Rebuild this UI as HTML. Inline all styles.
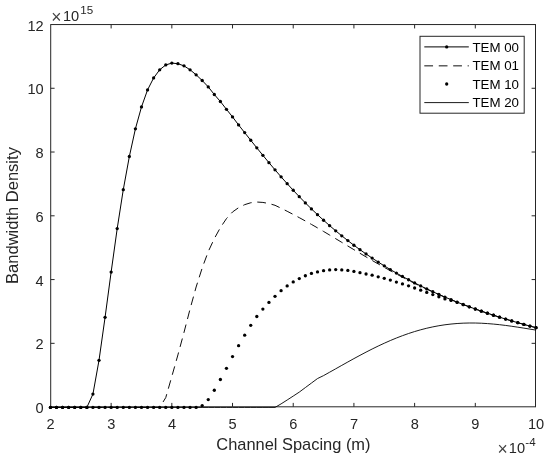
<!DOCTYPE html>
<html><head><meta charset="utf-8"><title>Bandwidth Density vs Channel Spacing</title>
<style>html,body{margin:0;padding:0;background:#fff}body{width:550px;height:460px;overflow:hidden}</style></head>
<body>
<svg width="550" height="460" viewBox="0 0 550 460" style="display:block;font-family:'Liberation Sans',sans-serif">
<rect width="550" height="460" fill="#fff"/>
<g stroke="#262626" stroke-width="1" fill="none">
<rect x="50.7" y="24.55" width="484.8" height="382.25"/>
<path d="M111.14 406.8v-3.9M111.14 24.55v3.9"/>
<path d="M171.84 406.8v-3.9M171.84 24.55v3.9"/>
<path d="M232.53 406.8v-3.9M232.53 24.55v3.9"/>
<path d="M293.23 406.8v-3.9M293.23 24.55v3.9"/>
<path d="M353.92 406.8v-3.9M353.92 24.55v3.9"/>
<path d="M414.61 406.8v-3.9M414.61 24.55v3.9"/>
<path d="M475.31 406.8v-3.9M475.31 24.55v3.9"/>
<path d="M50.7 343.33h3.9M535.5 343.33h-3.9"/>
<path d="M50.7 279.57h3.9M535.5 279.57h-3.9"/>
<path d="M50.7 215.80h3.9M535.5 215.80h-3.9"/>
<path d="M50.7 152.03h3.9M535.5 152.03h-3.9"/>
<path d="M50.7 88.27h3.9M535.5 88.27h-3.9"/>
</g>
<g fill="#262626" font-size="15.1px">
<text x="46.49" y="428.7" textLength="8.12" lengthAdjust="spacingAndGlyphs">2</text>
<text x="107.18" y="428.7" textLength="8.12" lengthAdjust="spacingAndGlyphs">3</text>
<text x="167.88" y="428.7" textLength="8.12" lengthAdjust="spacingAndGlyphs">4</text>
<text x="228.57" y="428.7" textLength="8.12" lengthAdjust="spacingAndGlyphs">5</text>
<text x="289.26" y="428.7" textLength="8.12" lengthAdjust="spacingAndGlyphs">6</text>
<text x="349.96" y="428.7" textLength="8.12" lengthAdjust="spacingAndGlyphs">7</text>
<text x="410.65" y="428.7" textLength="8.12" lengthAdjust="spacingAndGlyphs">8</text>
<text x="471.35" y="428.7" textLength="8.12" lengthAdjust="spacingAndGlyphs">9</text>
<text x="527.98" y="428.7" textLength="16.24" lengthAdjust="spacingAndGlyphs">10</text>
<text x="35.58" y="413.20" textLength="8.12" lengthAdjust="spacingAndGlyphs">0</text>
<text x="35.58" y="349.43" textLength="8.12" lengthAdjust="spacingAndGlyphs">2</text>
<text x="35.58" y="285.67" textLength="8.12" lengthAdjust="spacingAndGlyphs">4</text>
<text x="35.58" y="221.90" textLength="8.12" lengthAdjust="spacingAndGlyphs">6</text>
<text x="35.58" y="158.13" textLength="8.12" lengthAdjust="spacingAndGlyphs">8</text>
<text x="27.46" y="94.37" textLength="16.24" lengthAdjust="spacingAndGlyphs">10</text>
<text x="27.46" y="30.60" textLength="16.24" lengthAdjust="spacingAndGlyphs">12</text>
<text x="51.2" y="22.8" font-size="17.5px" fill="#444">×</text><text x="63.0" y="20.5" textLength="16.24" lengthAdjust="spacingAndGlyphs">10</text><text x="80.2" y="13.5" font-size="11.6px">15</text>
<text x="497.5" y="455.1" font-size="17.5px" fill="#444">×</text><text x="508.8" y="452.9" textLength="16.24" lengthAdjust="spacingAndGlyphs">10</text><text x="525.3" y="446.4" font-size="11.6px">-4</text>
</g>
<g fill="#262626" font-size="16.4px">
<text x="216.3" y="449.8" textLength="154.2" lengthAdjust="spacingAndGlyphs">Channel Spacing (m)</text>
<text transform="translate(18.1,283.9) rotate(-90)" textLength="136.8" lengthAdjust="spacingAndGlyphs">Bandwidth Density</text>
</g>
<g transform="translate(0,0.3)">
<g fill="none" stroke="#000" stroke-width="1.0" stroke-linejoin="round">
<polyline points="50.45,407.10 56.52,407.10 62.59,407.10 68.66,407.10 74.73,407.10 80.80,407.10 86.87,407.10 92.94,393.77 99.00,360.02 105.07,317.05 111.14,271.75 117.21,228.23 123.28,189.40 129.35,156.19 135.42,128.50 141.49,106.63 147.56,89.60 153.63,77.66 159.70,69.48 165.77,64.61 171.84,62.80 177.91,63.40 183.98,65.57 190.05,69.48 196.12,74.48 202.18,80.21 208.25,86.58 214.32,94.22 220.39,101.22 226.46,109.02 232.53,116.59 238.60,124.67 244.67,132.32 250.74,139.96 256.81,147.54 262.88,155.01 268.95,162.35 275.02,169.53 281.09,176.54 287.16,183.35 293.23,189.97 299.29,196.39 305.36,202.59 311.43,208.59 317.50,214.38 323.57,219.96 329.64,225.34 335.71,230.53 341.78,235.52 347.85,240.32 353.92,244.94 359.99,249.39 366.06,253.67 372.13,257.78 378.20,261.74 384.27,265.56 390.33,269.23 396.40,272.76 402.47,276.17 408.54,279.44 414.61,282.60 420.68,285.65 426.75,288.59 432.82,291.42 438.89,294.15 444.96,296.79 451.03,299.34 457.10,301.80 463.17,304.18 469.24,306.48 475.31,308.70 481.38,310.85 487.44,312.93 493.51,314.94 499.58,316.89 505.65,318.78 511.72,320.61 517.79,322.39 523.86,324.11 529.93,325.77 536.00,327.39"/>
<polyline points="50.45,407.10 56.52,407.10 62.59,407.10 68.66,407.10 74.73,407.10 80.80,407.10 86.87,407.10 92.94,407.10 99.00,407.10 105.07,407.10 111.14,407.10 117.21,407.10 123.28,407.10 129.35,407.10 135.42,407.10 141.49,407.10 147.56,407.10 153.63,407.10 159.70,407.10 165.77,397.27 171.84,376.10 177.91,354.61 183.98,332.17 190.05,308.77 196.12,286.71 202.18,267.71 208.25,251.31 214.32,238.29 220.39,227.31 226.46,218.30 232.53,211.68 238.60,207.38 244.67,204.36 250.74,202.45 256.81,201.72 262.88,202.13 268.95,203.24 275.02,205.00 281.09,207.92 287.16,210.97 293.23,214.12 299.29,217.35 305.36,220.68 311.43,224.10 317.50,227.59 323.57,231.14 329.64,234.75 335.71,238.39 341.78,242.05 347.85,245.72 353.92,249.37 359.99,253.01 366.06,256.60 372.13,260.15 378.20,263.64 384.27,267.07 390.33,270.43 396.40,273.70 402.47,276.90 408.54,280.02 414.61,283.05 420.68,285.99 426.75,288.85 432.82,291.62 438.89,294.30 444.96,296.90 451.03,299.42 457.10,301.86 463.17,304.22 469.24,306.51 475.31,308.72 481.38,310.87 487.44,312.94 493.51,314.95 499.58,316.90 505.65,318.79 511.72,320.61 517.79,322.39 523.86,324.11 529.93,325.77 536.00,327.39" stroke-dasharray="8.75 5.7" stroke-width="0.95"/>
<polyline points="50.45,407.10 56.52,407.10 62.59,407.10 68.66,407.10 74.73,407.10 80.80,407.10 86.87,407.10 92.94,407.10 99.00,407.10 105.07,407.10 111.14,407.10 117.21,407.10 123.28,407.10 129.35,407.10 135.42,407.10 141.49,407.10 147.56,407.10 153.63,407.10 159.70,407.10 165.77,407.10 171.84,407.10 177.91,407.10 183.98,407.10 190.05,407.10 196.12,407.10 202.18,407.10 208.25,407.10 214.32,407.10 220.39,407.10 226.46,407.10 232.53,407.10 238.60,407.10 244.67,407.10 250.74,407.10 256.81,407.10 262.88,407.10 268.95,407.10 275.02,407.10 281.09,403.59 287.16,399.70 293.23,395.78 299.29,391.80 305.36,387.27 311.43,382.77 317.50,378.25 323.57,375.30 329.64,371.91 335.71,368.50 341.78,365.08 347.85,361.67 353.92,358.32 359.99,355.03 366.06,351.83 372.13,348.73 378.20,345.75 384.27,342.92 390.33,340.24 396.40,337.72 402.47,335.38 408.54,333.22 414.61,331.26 420.68,329.49 426.75,327.93 432.82,326.58 438.89,325.43 444.96,324.48 451.03,323.75 457.10,323.21 463.17,322.86 469.24,322.71 475.31,322.73 481.38,322.93 487.44,323.28 493.51,323.78 499.58,324.40 505.65,325.14 511.72,325.97 517.79,326.88 523.86,327.84 529.93,328.82 536.00,329.82" stroke-width="0.9"/>
</g>
<g fill="#000"><circle cx="50.45" cy="407.10" r="1.65"/><circle cx="56.52" cy="407.10" r="1.65"/><circle cx="62.59" cy="407.10" r="1.65"/><circle cx="68.66" cy="407.10" r="1.65"/><circle cx="74.73" cy="407.10" r="1.65"/><circle cx="80.80" cy="407.10" r="1.65"/><circle cx="86.87" cy="407.10" r="1.65"/><circle cx="92.94" cy="393.77" r="1.65"/><circle cx="99.00" cy="360.02" r="1.65"/><circle cx="105.07" cy="317.05" r="1.65"/><circle cx="111.14" cy="271.75" r="1.65"/><circle cx="117.21" cy="228.23" r="1.65"/><circle cx="123.28" cy="189.40" r="1.65"/><circle cx="129.35" cy="156.19" r="1.65"/><circle cx="135.42" cy="128.50" r="1.65"/><circle cx="141.49" cy="106.63" r="1.65"/><circle cx="147.56" cy="89.60" r="1.65"/><circle cx="153.63" cy="77.66" r="1.65"/><circle cx="159.70" cy="69.48" r="1.65"/><circle cx="165.77" cy="64.61" r="1.65"/><circle cx="171.84" cy="62.80" r="1.65"/><circle cx="177.91" cy="63.40" r="1.65"/><circle cx="183.98" cy="65.57" r="1.65"/><circle cx="190.05" cy="69.48" r="1.65"/><circle cx="196.12" cy="74.48" r="1.65"/><circle cx="202.18" cy="80.21" r="1.65"/><circle cx="208.25" cy="86.58" r="1.65"/><circle cx="214.32" cy="94.22" r="1.65"/><circle cx="220.39" cy="101.22" r="1.65"/><circle cx="226.46" cy="109.02" r="1.65"/><circle cx="232.53" cy="116.59" r="1.65"/><circle cx="238.60" cy="124.67" r="1.65"/><circle cx="244.67" cy="132.32" r="1.65"/><circle cx="250.74" cy="139.96" r="1.65"/><circle cx="256.81" cy="147.54" r="1.65"/><circle cx="262.88" cy="155.01" r="1.65"/><circle cx="268.95" cy="162.35" r="1.65"/><circle cx="275.02" cy="169.53" r="1.65"/><circle cx="281.09" cy="176.54" r="1.65"/><circle cx="287.16" cy="183.35" r="1.65"/><circle cx="293.23" cy="189.97" r="1.65"/><circle cx="299.29" cy="196.39" r="1.65"/><circle cx="305.36" cy="202.59" r="1.65"/><circle cx="311.43" cy="208.59" r="1.65"/><circle cx="317.50" cy="214.38" r="1.65"/><circle cx="323.57" cy="219.96" r="1.65"/><circle cx="329.64" cy="225.34" r="1.65"/><circle cx="335.71" cy="230.53" r="1.65"/><circle cx="341.78" cy="235.52" r="1.65"/><circle cx="347.85" cy="240.32" r="1.65"/><circle cx="353.92" cy="244.94" r="1.65"/><circle cx="359.99" cy="249.39" r="1.65"/><circle cx="366.06" cy="253.67" r="1.65"/><circle cx="372.13" cy="257.78" r="1.65"/><circle cx="378.20" cy="261.74" r="1.65"/><circle cx="384.27" cy="265.56" r="1.65"/><circle cx="390.33" cy="269.23" r="1.65"/><circle cx="396.40" cy="272.76" r="1.65"/><circle cx="402.47" cy="276.17" r="1.65"/><circle cx="408.54" cy="279.44" r="1.65"/><circle cx="414.61" cy="282.60" r="1.65"/><circle cx="420.68" cy="285.65" r="1.65"/><circle cx="426.75" cy="288.59" r="1.65"/><circle cx="432.82" cy="291.42" r="1.65"/><circle cx="438.89" cy="294.15" r="1.65"/><circle cx="444.96" cy="296.79" r="1.65"/><circle cx="451.03" cy="299.34" r="1.65"/><circle cx="457.10" cy="301.80" r="1.65"/><circle cx="463.17" cy="304.18" r="1.65"/><circle cx="469.24" cy="306.48" r="1.65"/><circle cx="475.31" cy="308.70" r="1.65"/><circle cx="481.38" cy="310.85" r="1.65"/><circle cx="487.44" cy="312.93" r="1.65"/><circle cx="493.51" cy="314.94" r="1.65"/><circle cx="499.58" cy="316.89" r="1.65"/><circle cx="505.65" cy="318.78" r="1.65"/><circle cx="511.72" cy="320.61" r="1.65"/><circle cx="517.79" cy="322.39" r="1.65"/><circle cx="523.86" cy="324.11" r="1.65"/><circle cx="529.93" cy="325.77" r="1.65"/><circle cx="536.00" cy="327.39" r="1.65"/></g>
<g fill="#000"><circle cx="50.45" cy="407.10" r="1.65"/><circle cx="56.52" cy="407.10" r="1.65"/><circle cx="62.59" cy="407.10" r="1.65"/><circle cx="68.66" cy="407.10" r="1.65"/><circle cx="74.73" cy="407.10" r="1.65"/><circle cx="80.80" cy="407.10" r="1.65"/><circle cx="86.87" cy="407.10" r="1.65"/><circle cx="92.94" cy="407.10" r="1.65"/><circle cx="99.00" cy="407.10" r="1.65"/><circle cx="105.07" cy="407.10" r="1.65"/><circle cx="111.14" cy="407.10" r="1.65"/><circle cx="117.21" cy="407.10" r="1.65"/><circle cx="123.28" cy="407.10" r="1.65"/><circle cx="129.35" cy="407.10" r="1.65"/><circle cx="135.42" cy="407.10" r="1.65"/><circle cx="141.49" cy="407.10" r="1.65"/><circle cx="147.56" cy="407.10" r="1.65"/><circle cx="153.63" cy="407.10" r="1.65"/><circle cx="159.70" cy="407.10" r="1.65"/><circle cx="165.77" cy="407.10" r="1.65"/><circle cx="171.84" cy="407.10" r="1.65"/><circle cx="177.91" cy="407.10" r="1.65"/><circle cx="183.98" cy="407.10" r="1.65"/><circle cx="190.05" cy="407.10" r="1.65"/><circle cx="196.12" cy="407.10" r="1.65"/><circle cx="202.18" cy="405.23" r="1.65"/><circle cx="208.25" cy="399.31" r="1.65"/><circle cx="214.32" cy="389.95" r="1.65"/><circle cx="220.39" cy="379.22" r="1.65"/><circle cx="226.46" cy="367.98" r="1.65"/><circle cx="232.53" cy="356.30" r="1.65"/><circle cx="238.60" cy="345.38" r="1.65"/><circle cx="244.67" cy="334.88" r="1.65"/><circle cx="250.74" cy="325.01" r="1.65"/><circle cx="256.81" cy="316.19" r="1.65"/><circle cx="262.88" cy="308.77" r="1.65"/><circle cx="268.95" cy="302.09" r="1.65"/><circle cx="275.02" cy="296.04" r="1.65"/><circle cx="281.09" cy="290.37" r="1.65"/><circle cx="287.16" cy="285.63" r="1.65"/><circle cx="293.23" cy="281.59" r="1.65"/><circle cx="299.29" cy="278.24" r="1.65"/><circle cx="305.36" cy="275.44" r="1.65"/><circle cx="311.43" cy="273.15" r="1.65"/><circle cx="317.50" cy="271.62" r="1.65"/><circle cx="323.57" cy="270.35" r="1.65"/><circle cx="329.64" cy="269.62" r="1.65"/><circle cx="335.71" cy="269.30" r="1.65"/><circle cx="341.78" cy="269.62" r="1.65"/><circle cx="347.85" cy="270.09" r="1.65"/><circle cx="353.92" cy="271.11" r="1.65"/><circle cx="359.99" cy="272.39" r="1.65"/><circle cx="366.06" cy="273.69" r="1.65"/><circle cx="372.13" cy="274.90" r="1.65"/><circle cx="378.20" cy="276.49" r="1.65"/><circle cx="384.27" cy="277.99" r="1.65"/><circle cx="390.33" cy="279.80" r="1.65"/><circle cx="396.40" cy="281.81" r="1.65"/><circle cx="402.47" cy="283.62" r="1.65"/><circle cx="408.54" cy="285.53" r="1.65"/><circle cx="414.61" cy="287.70" r="1.65"/><circle cx="420.68" cy="289.89" r="1.65"/><circle cx="426.75" cy="292.09" r="1.65"/><circle cx="432.82" cy="294.29" r="1.65"/><circle cx="438.89" cy="296.48" r="1.65"/><circle cx="444.96" cy="298.59" r="1.65"/><circle cx="451.03" cy="300.15" r="1.65"/><circle cx="457.10" cy="302.16" r="1.65"/><circle cx="463.17" cy="304.33" r="1.65"/><circle cx="469.24" cy="306.54" r="1.65"/><circle cx="475.31" cy="308.73" r="1.65"/><circle cx="481.38" cy="310.86" r="1.65"/><circle cx="487.44" cy="312.93" r="1.65"/><circle cx="493.51" cy="314.94" r="1.65"/><circle cx="499.58" cy="316.89" r="1.65"/><circle cx="505.65" cy="318.78" r="1.65"/><circle cx="511.72" cy="320.61" r="1.65"/><circle cx="517.79" cy="322.39" r="1.65"/><circle cx="523.86" cy="324.11" r="1.65"/><circle cx="529.93" cy="325.77" r="1.65"/><circle cx="536.00" cy="327.39" r="1.65"/></g>
</g>
<rect x="420" y="36.3" width="104.2" height="76.9" fill="#fff" stroke="#262626" stroke-width="1"/>
<g stroke="#000" stroke-width="1.0" fill="none">
<path d="M424.3 46.9H468.8"/>
<path d="M424.3 65.85H468.8" stroke-dasharray="8.75 5.7" stroke-width="0.95"/>
<path d="M424.3 102.6H468.8" stroke-width="0.9"/>
</g>
<circle cx="446.7" cy="46.9" r="1.65"/><circle cx="446.7" cy="84.0" r="1.65"/>
<g fill="#000" font-size="13.3px">
<text x="472.4" y="52.2" textLength="46.6" lengthAdjust="spacingAndGlyphs">TEM 00</text>
<text x="472.4" y="70.3" textLength="46.6" lengthAdjust="spacingAndGlyphs">TEM 01</text>
<text x="472.4" y="88.8" textLength="46.6" lengthAdjust="spacingAndGlyphs">TEM 10</text>
<text x="472.4" y="107.0" textLength="46.6" lengthAdjust="spacingAndGlyphs">TEM 20</text>
</g>
</svg>
</body></html>
